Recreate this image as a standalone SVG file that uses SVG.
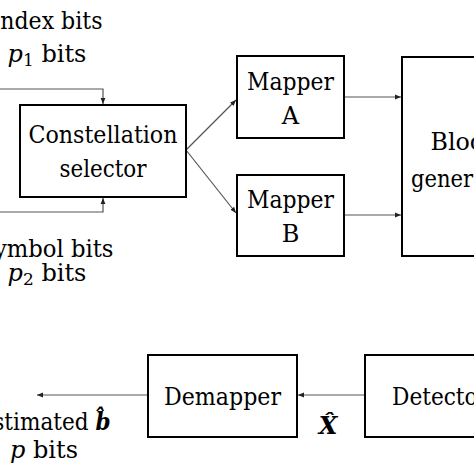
<svg xmlns="http://www.w3.org/2000/svg" width="474" height="474" viewBox="0 0 474 474">
<style>
text{font-family:'DejaVu Serif','Liberation Serif',serif;font-size:24px;fill:#000;text-anchor:middle}
.box{fill:#fff;stroke:#000;stroke-width:2}
.w{fill:none;stroke:#555;stroke-width:1.2}
.m{font-style:italic}
.bi{font-style:italic;font-weight:bold}
</style>
<defs>
<marker id="ah" viewBox="0 0 10 10" refX="10" refY="5" markerWidth="6" markerHeight="6" markerUnits="userSpaceOnUse" orient="auto">
<path d="M0,1 L10,5 L0,9 z" fill="#222"/>
</marker>
</defs>
<rect width="474" height="474" fill="#fff"/>
<g id="connectors">
<path class="w" d="M0,89 H103 V104" marker-end="url(#ah)"/>
<path class="w" d="M0,212 H103 V198" marker-end="url(#ah)"/>
<path class="w" d="M186,150 L236,100" marker-end="url(#ah)"/>
<path class="w" d="M186,150 L236,213" marker-end="url(#ah)"/>
<path class="w" d="M344,97 H401" marker-end="url(#ah)"/>
<path class="w" d="M344,215 H401" marker-end="url(#ah)"/>
<path class="w" d="M365,395 H298" marker-end="url(#ah)"/>
<path class="w" d="M148,395 H37" marker-end="url(#ah)"/>
</g>
<g id="index-label">
<text x="47" y="29" textLength="111" lengthAdjust="spacingAndGlyphs">Index bits</text>
<text x="47" y="62"><tspan class="m">p</tspan><tspan font-size="17" dy="4">1</tspan><tspan dy="-4"> bits</tspan></text>
</g>
<g id="symbol-label">
<text x="46" y="257" textLength="135" lengthAdjust="spacingAndGlyphs">Symbol bits</text>
<text x="47" y="281"><tspan class="m">p</tspan><tspan font-size="17" dy="4">2</tspan><tspan dy="-4"> bits</tspan></text>
</g>
<g id="constellation-selector">
<rect class="box" x="20" y="105" width="166" height="92"/>
<text x="103" y="143" textLength="149" lengthAdjust="spacingAndGlyphs">Constellation</text>
<text x="103" y="177" textLength="87" lengthAdjust="spacingAndGlyphs">selector</text>
</g>
<g id="mapper-a">
<rect class="box" x="237" y="56" width="107" height="82"/>
<text x="290.5" y="90" textLength="87" lengthAdjust="spacingAndGlyphs">Mapper</text>
<text x="290.5" y="124">A</text>
</g>
<g id="mapper-b">
<rect class="box" x="237" y="175" width="107" height="81"/>
<text x="290.5" y="208" textLength="87" lengthAdjust="spacingAndGlyphs">Mapper</text>
<text x="290.5" y="242">B</text>
</g>
<g id="block-generator">
<rect class="box" x="402" y="57" width="124" height="199"/>
<text x="464" y="150" textLength="67" lengthAdjust="spacingAndGlyphs">Block</text>
<text x="464" y="187" textLength="106" lengthAdjust="spacingAndGlyphs">generator</text>
</g>
<g id="demapper">
<rect class="box" x="148" y="355" width="149" height="82"/>
<text x="222.5" y="405" textLength="117" lengthAdjust="spacingAndGlyphs">Demapper</text>
</g>
<g id="detector">
<rect class="box" x="365" y="355" width="150" height="82"/>
<text x="440" y="405" textLength="96" lengthAdjust="spacingAndGlyphs">Detector</text>
</g>
<g id="xhat-label">
<text class="bi" x="328" y="434">X&#770;</text>
</g>
<g id="output-label">
<text x="44" y="430" textLength="133" lengthAdjust="spacingAndGlyphs">Estimated <tspan class="bi">b&#770;</tspan></text>
<text x="44" y="458"><tspan class="m">p</tspan> bits</text>
</g>
</svg>
